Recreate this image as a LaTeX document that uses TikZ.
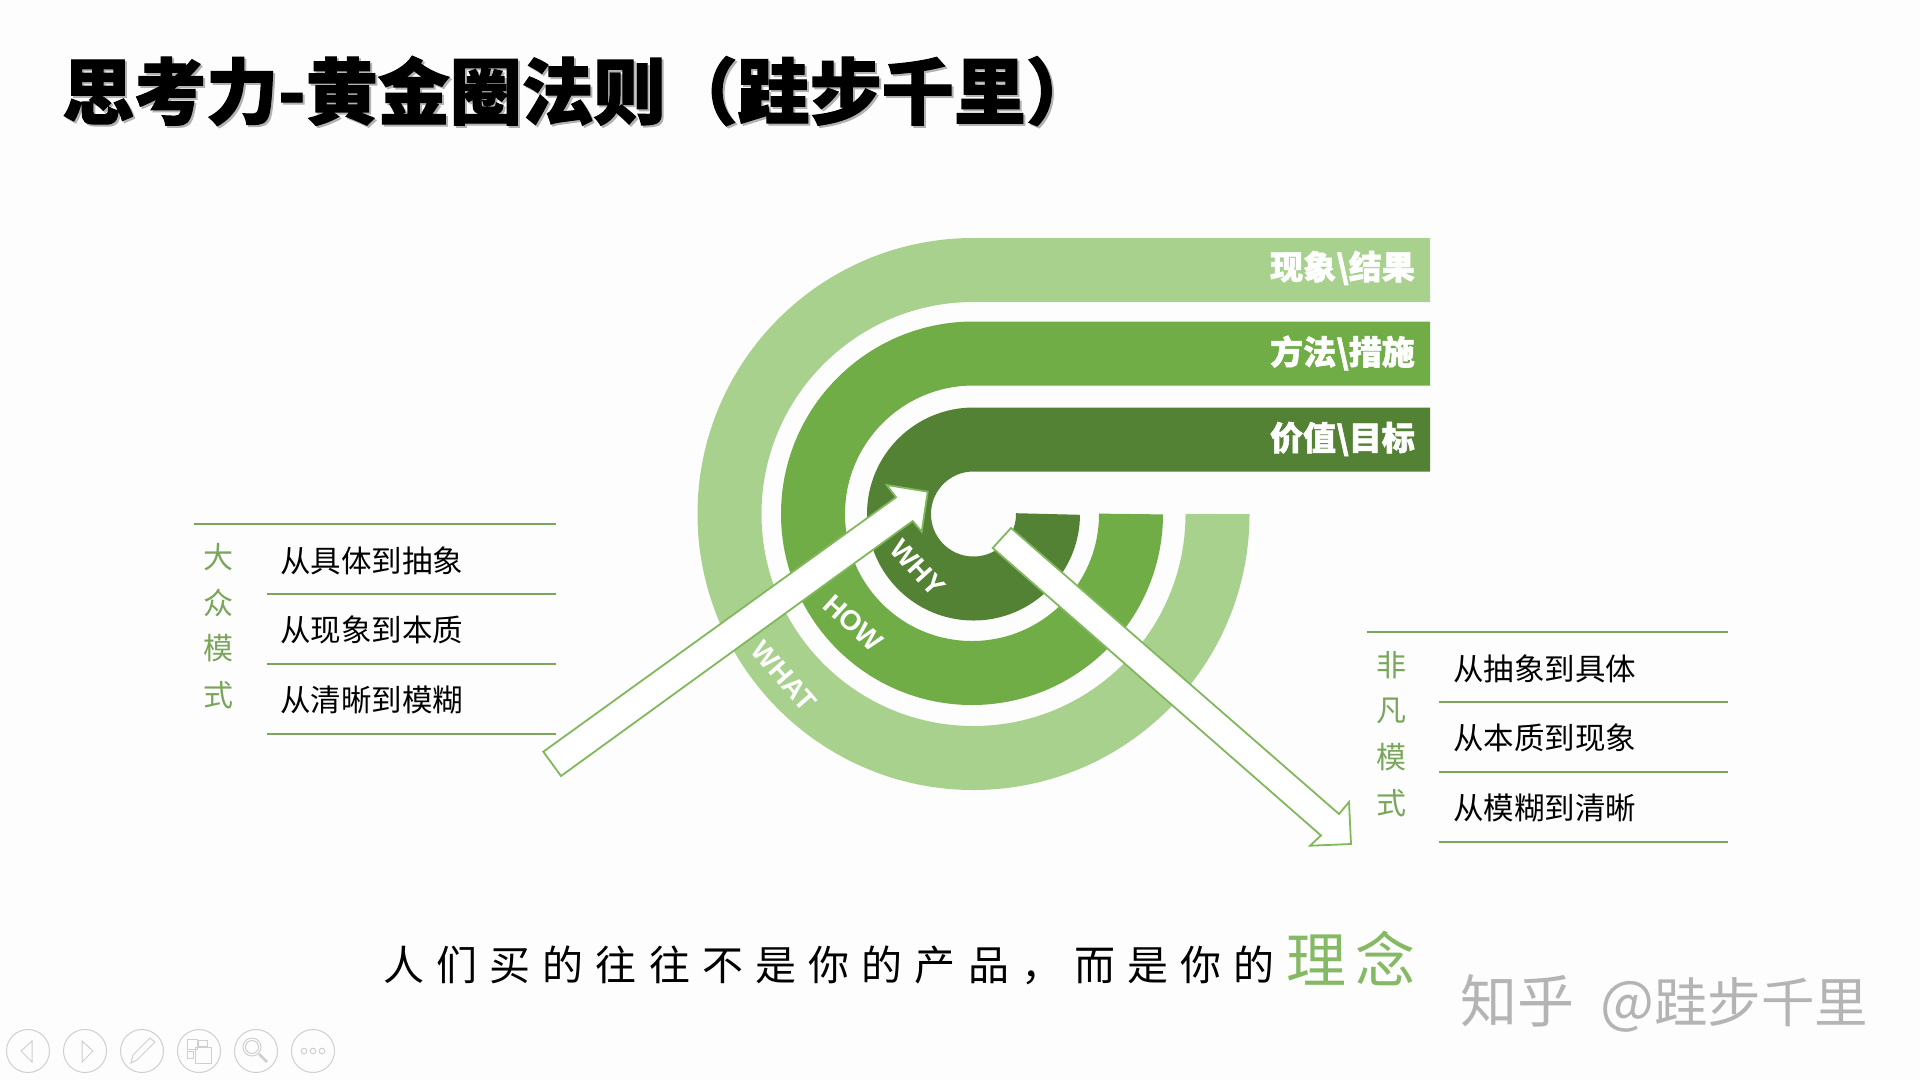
\documentclass[tikz,border=0pt]{standalone}
\usepackage{fontspec}
\setmainfont{Noto Sans CJK SC}
\newfontfamily\latinfont{Liberation Sans}
\newfontfamily\titlefont[BoldFeatures={FakeBold=1.6}]{Noto Sans CJK SC}
\newfontfamily\spreadfont[LetterSpace=29.7]{Noto Sans CJK SC}
\newfontfamily\ideafont[LetterSpace=15]{Noto Sans CJK SC}
\definecolor{ringlight}{HTML}{A9D18E}
\definecolor{ringmid}{HTML}{70AD47}
\definecolor{ringdark}{HTML}{548235}
\definecolor{rulegreen}{HTML}{7AA65C}
\definecolor{pagegrey}{HTML}{FDFDFD}
\definecolor{markgrey}{HTML}{B4B4B4}
\definecolor{navgrey}{HTML}{CFCFCF}
\newcommand{\fs}[1]{\fontsize{#1}{#1}\selectfont}
\tikzset{
  ringband/.style={line width=64pt},
  bandlabel/.style={anchor=east,text=white,font=\fs{33}\titlefont\bfseries,inner sep=0pt},
  levellabel/.style={text=white,font=\fs{28}\latinfont\bfseries,inner sep=0pt},
  rowrule/.style={rulegreen,line width=1.8pt},
  rowtext/.style={anchor=west,font=\fs{30.5},inner sep=0pt},
  sidetext/.style={text=rulegreen,font=\fs{30},inner sep=0pt},
  blockarrow/.style={fill=white,draw=ringmid!70!ringlight,line width=1.8pt,line join=miter},
  navbutton/.style={circle,draw=navgrey,line width=1pt,minimum size=43pt,inner sep=0pt},
  navglyph/.style={draw=navgrey,line width=1pt},
}
\begin{document}
\begin{tikzpicture}[x=1pt,y=-1pt]
  \useasboundingbox (0,0) rectangle (1920,1080);
  \fill[pagegrey] (0,0) rectangle (1920,1080);
  % title
  \node[anchor=west,inner sep=0pt,text=black!30,font=\fs{72}\titlefont\bfseries] at (64,93) {思考力-黄金圈法则（跬步千里）};
  \node[anchor=west,inner sep=0pt,font=\fs{72}\titlefont\bfseries] (title) at (62,91) {思考力-黄金圈法则（跬步千里）};
  % rings
  \draw[ringband,ringlight] (1430,270) -- (973.5,270) arc[start angle=270,end angle=0,radius=244];
  \draw[ringband,ringmid] (1430,353.5) -- (973.5,353.5) arc[start angle=270,end angle=180,radius=160.5] arc[start angle=180,end angle=0,radius=159];
  \draw[ringband,ringdark] (1430,439.5) -- (973.5,439.5) arc[start angle=270,end angle=0,radius=74.5];
  \node[bandlabel] (band1) at (1415,268) {现象\textbackslash 结果};
  \node[bandlabel] (band2) at (1415,353) {方法\textbackslash 措施};
  \node[bandlabel] (band3) at (1415,439) {价值\textbackslash 目标};
  \node[levellabel,rotate=-48] (why) at (918,568) {WHY};
  \node[levellabel,rotate=-42] (how) at (853,623) {HOW};
  \node[levellabel,rotate=-49] (what) at (784,676) {WHAT};
  % arrows
  \draw[blockarrow] (543.3,751.7) -- (896,497.3) -- (886.7,485) -- (927.7,491.7) -- (921.7,531.7) -- (912.7,521) -- (561,776) -- cycle;
  \draw[blockarrow] (1011,528) -- (1339,814) -- (1349,802) -- (1351,844) -- (1310,845.7) -- (1321,835.5) -- (992.7,548) -- cycle;
  % left list
  \draw[rowrule] (194,524) -- (556,524);
  \foreach \y in {594,664,734} \draw[rowrule] (267,\y) -- (556,\y);
  \node[rowtext] (lefta) at (280,561) {从具体到抽象};
  \node[rowtext] (leftb) at (280,630) {从现象到本质};
  \node[rowtext] (leftc) at (280,700) {从清晰到模糊};
  \node[sidetext] (lsidea) at (218,557) {大};
  \node[sidetext] (lsideb) at (218,603) {众};
  \node[sidetext] (lsidec) at (218,648) {模};
  \node[sidetext] (lsided) at (218,695) {式};
  % right list
  \draw[rowrule] (1367,632) -- (1728,632);
  \foreach \y in {702,772,842} \draw[rowrule] (1439,\y) -- (1728,\y);
  \node[rowtext] (righta) at (1453,669) {从抽象到具体};
  \node[rowtext] (rightb) at (1453,738) {从本质到现象};
  \node[rowtext] (rightc) at (1453,808) {从模糊到清晰};
  \node[sidetext] (rsidea) at (1391,665) {非};
  \node[sidetext] (rsideb) at (1391,711) {凡};
  \node[sidetext] (rsidec) at (1391,757) {模};
  \node[sidetext] (rsided) at (1391,803) {式};
  % bottom line
  \node[anchor=west,inner sep=0pt,font=\fs{41}\spreadfont] (slogan) at (383,965) {人们买的往往不是你的产品，而是你的};
  \node[anchor=west,inner sep=0pt,text=ringmid!85!white,font=\fs{60}\ideafont] (idea) at (1286,958) {理念};
  % watermark
  \node[anchor=west,inner sep=0pt,text=markgrey,font=\fs{57}] (mark) at (1460,1003) {知乎\hspace{26pt}@{\fs{53.5}跬步千里}};
  % nav buttons
  \foreach \i/\x in {1/28,2/85,3/142,4/199,5/256,6/313}
    \node[navbutton] (nav\i) at (\x,1051) {};
  \draw[navglyph] (32,1041) -- (21,1051) -- (32,1062) -- cycle;
  \draw[navglyph] (82,1041) -- (93,1051) -- (82,1062) -- cycle;
  \draw[navglyph] (131,1063) -- (133,1055) -- (150,1038) -- (155,1042) -- (137,1060) -- cycle;
  \draw[navglyph] (187,1039) rectangle (197,1049);
  \draw[navglyph] (198,1040) rectangle (207,1046);
  \draw[navglyph] (187,1051) rectangle (193,1058);
  \draw[navglyph] (195,1047) rectangle (211,1063);
  \draw[navglyph] (252,1047) circle (9);
  \draw[navglyph] (252,1047) circle (6.5);
  \draw[navglyph,line width=2.5pt] (259,1054) -- (267,1062);
  \foreach \x in {304,313,322} \draw[navglyph] (\x,1051) circle (2.8);
\end{tikzpicture}
\end{document}
